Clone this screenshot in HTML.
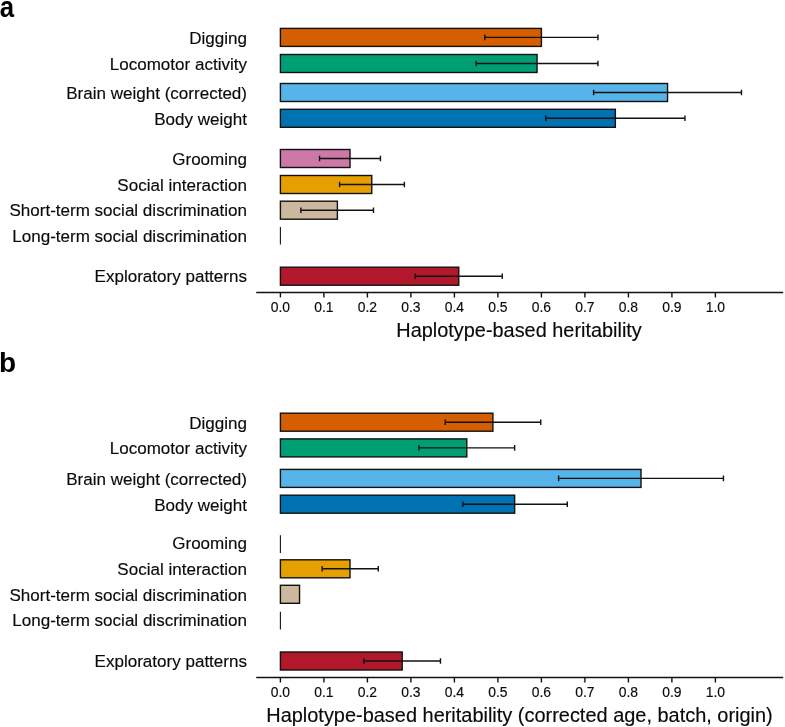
<!DOCTYPE html>
<html><head><meta charset="utf-8"><title>Haplotype-based heritability</title>
<style>
html,body{margin:0;padding:0;background:#fff;}
svg{display:block;font-family:"Liberation Sans", Arial, Helvetica, sans-serif;}
</style></head><body>
<svg width="785" height="727" viewBox="0 0 785 727">
<rect width="785" height="727" fill="#fff"/>
<text transform="translate(-0.2,16.5) scale(0.923,1.03)" x="0" y="0" font-size="28" font-weight="bold" fill="#000">a</text>
<text x="247" y="43.70" font-size="17.05" text-anchor="end" fill="#0a0a0a" stroke="#0a0a0a" stroke-width="0.15">Digging</text>
<rect x="280.4" y="28.40" width="261.00" height="18.0" fill="#D55E00" stroke="#111" stroke-width="1.4"/>
<path d="M484.85 37.40H597.95M484.85 34.60v5.6M597.95 34.60v5.6" stroke="#111" stroke-width="1.4" fill="none"/>
<text x="247" y="69.80" font-size="17.05" text-anchor="end" fill="#0a0a0a" stroke="#0a0a0a" stroke-width="0.15">Locomotor activity</text>
<rect x="280.4" y="54.50" width="256.65" height="18.0" fill="#009E73" stroke="#111" stroke-width="1.4"/>
<path d="M476.15 63.50H597.95M476.15 60.70v5.6M597.95 60.70v5.6" stroke="#111" stroke-width="1.4" fill="none"/>
<text x="247" y="99.20" font-size="17.05" text-anchor="end" fill="#0a0a0a" stroke="#0a0a0a" stroke-width="0.15">Brain weight (corrected)</text>
<rect x="280.4" y="83.50" width="387.15" height="18.0" fill="#56B4E9" stroke="#111" stroke-width="1.4"/>
<path d="M593.60 92.50H741.50M593.60 89.70v5.6M741.50 89.70v5.6" stroke="#111" stroke-width="1.4" fill="none"/>
<text x="247" y="125.20" font-size="17.05" text-anchor="end" fill="#0a0a0a" stroke="#0a0a0a" stroke-width="0.15">Body weight</text>
<rect x="280.4" y="109.30" width="334.95" height="18.0" fill="#0072B2" stroke="#111" stroke-width="1.4"/>
<path d="M545.75 118.30H684.95M545.75 115.50v5.6M684.95 115.50v5.6" stroke="#111" stroke-width="1.4" fill="none"/>
<text x="247" y="164.55" font-size="17.05" text-anchor="end" fill="#0a0a0a" stroke="#0a0a0a" stroke-width="0.15">Grooming</text>
<rect x="280.4" y="149.50" width="69.60" height="18.0" fill="#CC79A7" stroke="#111" stroke-width="1.4"/>
<path d="M319.55 158.50H380.45M319.55 155.70v5.6M380.45 155.70v5.6" stroke="#111" stroke-width="1.4" fill="none"/>
<text x="247" y="190.55" font-size="17.05" text-anchor="end" fill="#0a0a0a" stroke="#0a0a0a" stroke-width="0.15">Social interaction</text>
<rect x="280.4" y="175.50" width="91.35" height="18.0" fill="#E69F00" stroke="#111" stroke-width="1.4"/>
<path d="M339.56 184.50H404.38M339.56 181.70v5.6M404.38 181.70v5.6" stroke="#111" stroke-width="1.4" fill="none"/>
<text x="247" y="216.25" font-size="17.05" text-anchor="end" fill="#0a0a0a" stroke="#0a0a0a" stroke-width="0.15">Short-term social discrimination</text>
<rect x="280.4" y="201.20" width="56.98" height="18.0" fill="#CDB79E" stroke="#111" stroke-width="1.4"/>
<path d="M300.84 210.20H373.49M300.84 207.40v5.6M373.49 207.40v5.6" stroke="#111" stroke-width="1.4" fill="none"/>
<text x="247" y="241.85" font-size="17.05" text-anchor="end" fill="#0a0a0a" stroke="#0a0a0a" stroke-width="0.15">Long-term social discrimination</text>
<line x1="280.4" x2="280.4" y1="227.00" y2="244.60" stroke="#111" stroke-width="1.1"/>
<text x="247" y="282.25" font-size="17.05" text-anchor="end" fill="#0a0a0a" stroke="#0a0a0a" stroke-width="0.15">Exploratory patterns</text>
<rect x="280.4" y="267.20" width="178.35" height="18.0" fill="#B2182B" stroke="#111" stroke-width="1.4"/>
<path d="M415.25 276.20H502.25M415.25 273.40v5.6M502.25 273.40v5.6" stroke="#111" stroke-width="1.4" fill="none"/>
<path d="M256.2 292.50H783.2M280.40 292.50v5M323.90 292.50v5M367.40 292.50v5M410.90 292.50v5M454.40 292.50v5M497.90 292.50v5M541.40 292.50v5M584.90 292.50v5M628.40 292.50v5M671.90 292.50v5M715.40 292.50v5" stroke="#111" stroke-width="1.4" fill="none"/>
<text x="280.40" y="311.80" font-size="13.9" text-anchor="middle" fill="#0a0a0a" stroke="#0a0a0a" stroke-width="0.15">0.0</text>
<text x="323.90" y="311.80" font-size="13.9" text-anchor="middle" fill="#0a0a0a" stroke="#0a0a0a" stroke-width="0.15">0.1</text>
<text x="367.40" y="311.80" font-size="13.9" text-anchor="middle" fill="#0a0a0a" stroke="#0a0a0a" stroke-width="0.15">0.2</text>
<text x="410.90" y="311.80" font-size="13.9" text-anchor="middle" fill="#0a0a0a" stroke="#0a0a0a" stroke-width="0.15">0.3</text>
<text x="454.40" y="311.80" font-size="13.9" text-anchor="middle" fill="#0a0a0a" stroke="#0a0a0a" stroke-width="0.15">0.4</text>
<text x="497.90" y="311.80" font-size="13.9" text-anchor="middle" fill="#0a0a0a" stroke="#0a0a0a" stroke-width="0.15">0.5</text>
<text x="541.40" y="311.80" font-size="13.9" text-anchor="middle" fill="#0a0a0a" stroke="#0a0a0a" stroke-width="0.15">0.6</text>
<text x="584.90" y="311.80" font-size="13.9" text-anchor="middle" fill="#0a0a0a" stroke="#0a0a0a" stroke-width="0.15">0.7</text>
<text x="628.40" y="311.80" font-size="13.9" text-anchor="middle" fill="#0a0a0a" stroke="#0a0a0a" stroke-width="0.15">0.8</text>
<text x="671.90" y="311.80" font-size="13.9" text-anchor="middle" fill="#0a0a0a" stroke="#0a0a0a" stroke-width="0.15">0.9</text>
<text x="715.40" y="311.80" font-size="13.9" text-anchor="middle" fill="#0a0a0a" stroke="#0a0a0a" stroke-width="0.15">1.0</text>
<text x="519.1" y="337.00" font-size="19.9" text-anchor="middle" fill="#0a0a0a" stroke="#0a0a0a" stroke-width="0.15">Haplotype-based heritability</text>
<text x="-1.1" y="371.5" font-size="28" font-weight="bold" fill="#000">b</text>
<text x="247" y="428.50" font-size="17.05" text-anchor="end" fill="#0a0a0a" stroke="#0a0a0a" stroke-width="0.15">Digging</text>
<rect x="280.4" y="413.20" width="212.50" height="18.0" fill="#D55E00" stroke="#111" stroke-width="1.4"/>
<path d="M445.26 422.20H540.75M445.26 419.40v5.6M540.75 419.40v5.6" stroke="#111" stroke-width="1.4" fill="none"/>
<text x="247" y="454.20" font-size="17.05" text-anchor="end" fill="#0a0a0a" stroke="#0a0a0a" stroke-width="0.15">Locomotor activity</text>
<rect x="280.4" y="438.90" width="186.40" height="18.0" fill="#009E73" stroke="#111" stroke-width="1.4"/>
<path d="M418.95 447.90H514.65M418.95 445.10v5.6M514.65 445.10v5.6" stroke="#111" stroke-width="1.4" fill="none"/>
<text x="247" y="484.90" font-size="17.05" text-anchor="end" fill="#0a0a0a" stroke="#0a0a0a" stroke-width="0.15">Brain weight (corrected)</text>
<rect x="280.4" y="469.40" width="360.62" height="18.0" fill="#56B4E9" stroke="#111" stroke-width="1.4"/>
<path d="M558.58 478.40H723.45M558.58 475.60v5.6M723.45 475.60v5.6" stroke="#111" stroke-width="1.4" fill="none"/>
<text x="247" y="510.70" font-size="17.05" text-anchor="end" fill="#0a0a0a" stroke="#0a0a0a" stroke-width="0.15">Body weight</text>
<rect x="280.4" y="495.20" width="234.25" height="18.0" fill="#0072B2" stroke="#111" stroke-width="1.4"/>
<path d="M462.88 504.20H567.28M462.88 501.40v5.6M567.28 501.40v5.6" stroke="#111" stroke-width="1.4" fill="none"/>
<text x="247" y="549.40" font-size="17.05" text-anchor="end" fill="#0a0a0a" stroke="#0a0a0a" stroke-width="0.15">Grooming</text>
<line x1="280.4" x2="280.4" y1="535.30" y2="552.90" stroke="#111" stroke-width="1.1"/>
<text x="247" y="574.60" font-size="17.05" text-anchor="end" fill="#0a0a0a" stroke="#0a0a0a" stroke-width="0.15">Social interaction</text>
<rect x="280.4" y="559.80" width="69.60" height="18.0" fill="#E69F00" stroke="#111" stroke-width="1.4"/>
<path d="M322.16 568.80H378.27M322.16 566.00v5.6M378.27 566.00v5.6" stroke="#111" stroke-width="1.4" fill="none"/>
<text x="247" y="600.50" font-size="17.05" text-anchor="end" fill="#0a0a0a" stroke="#0a0a0a" stroke-width="0.15">Short-term social discrimination</text>
<rect x="280.4" y="585.30" width="19.14" height="18.0" fill="#CDB79E" stroke="#111" stroke-width="1.4"/>
<text x="247" y="626.40" font-size="17.05" text-anchor="end" fill="#0a0a0a" stroke="#0a0a0a" stroke-width="0.15">Long-term social discrimination</text>
<line x1="280.4" x2="280.4" y1="611.80" y2="629.40" stroke="#111" stroke-width="1.1"/>
<text x="247" y="667.00" font-size="17.05" text-anchor="end" fill="#0a0a0a" stroke="#0a0a0a" stroke-width="0.15">Exploratory patterns</text>
<rect x="280.4" y="652.00" width="121.80" height="18.0" fill="#B2182B" stroke="#111" stroke-width="1.4"/>
<path d="M363.92 661.00H440.48M363.92 658.20v5.6M440.48 658.20v5.6" stroke="#111" stroke-width="1.4" fill="none"/>
<path d="M256.2 677.50H783.2M280.40 677.50v5M323.90 677.50v5M367.40 677.50v5M410.90 677.50v5M454.40 677.50v5M497.90 677.50v5M541.40 677.50v5M584.90 677.50v5M628.40 677.50v5M671.90 677.50v5M715.40 677.50v5" stroke="#111" stroke-width="1.4" fill="none"/>
<text x="280.40" y="696.80" font-size="13.9" text-anchor="middle" fill="#0a0a0a" stroke="#0a0a0a" stroke-width="0.15">0.0</text>
<text x="323.90" y="696.80" font-size="13.9" text-anchor="middle" fill="#0a0a0a" stroke="#0a0a0a" stroke-width="0.15">0.1</text>
<text x="367.40" y="696.80" font-size="13.9" text-anchor="middle" fill="#0a0a0a" stroke="#0a0a0a" stroke-width="0.15">0.2</text>
<text x="410.90" y="696.80" font-size="13.9" text-anchor="middle" fill="#0a0a0a" stroke="#0a0a0a" stroke-width="0.15">0.3</text>
<text x="454.40" y="696.80" font-size="13.9" text-anchor="middle" fill="#0a0a0a" stroke="#0a0a0a" stroke-width="0.15">0.4</text>
<text x="497.90" y="696.80" font-size="13.9" text-anchor="middle" fill="#0a0a0a" stroke="#0a0a0a" stroke-width="0.15">0.5</text>
<text x="541.40" y="696.80" font-size="13.9" text-anchor="middle" fill="#0a0a0a" stroke="#0a0a0a" stroke-width="0.15">0.6</text>
<text x="584.90" y="696.80" font-size="13.9" text-anchor="middle" fill="#0a0a0a" stroke="#0a0a0a" stroke-width="0.15">0.7</text>
<text x="628.40" y="696.80" font-size="13.9" text-anchor="middle" fill="#0a0a0a" stroke="#0a0a0a" stroke-width="0.15">0.8</text>
<text x="671.90" y="696.80" font-size="13.9" text-anchor="middle" fill="#0a0a0a" stroke="#0a0a0a" stroke-width="0.15">0.9</text>
<text x="715.40" y="696.80" font-size="13.9" text-anchor="middle" fill="#0a0a0a" stroke="#0a0a0a" stroke-width="0.15">1.0</text>
<text x="519.5" y="722.00" font-size="19.95" text-anchor="middle" fill="#0a0a0a" stroke="#0a0a0a" stroke-width="0.15">Haplotype-based heritability (corrected age, batch, origin)</text>
</svg>
</body></html>
